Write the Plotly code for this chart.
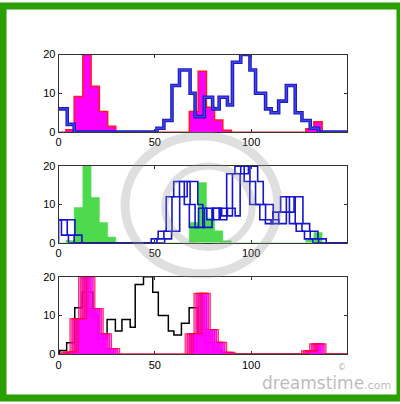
import plotly.graph_objects as go

# ---------------- data ----------------
# Panel 1 / 2: narrow-peaked histogram (magenta in panel 1, green in panel 2)
PEAK_EDGES = [0, 3.8, 8.1, 12.6, 16.9, 21.2, 25.5, 29.7, 67.9, 72.5, 76.8, 81.0, 85.3, 89.7, 128.4, 132.6, 136.9, 150]
PEAK_COUNTS = [0, 0.6, 9.2, 20, 11.8, 5.3, 1.5, 0, 5.3, 15.7, 6.4, 3.1, 0.5, 0, 0.9, 2.7, 0]

# Panel 1: broad blue histogram (stairs)
BROAD_EDGES = [-4, 4.5, 8.1, 51.1, 54.7, 58.9, 62.8, 68.3, 70.9, 75.7, 80.0, 83.4, 87.7, 90.3,
               94.6, 99.4, 102.3, 107.5, 110.4, 114.3, 118.3, 122.9, 126.4, 130.7, 135.0, 155]
BROAD_COUNTS = [6, 2, 0, 1, 3, 12, 16, 10, 4, 9, 6, 9, 7, 18, 20, 16, 10, 6, 5, 8, 12, 5, 3, 1, 0]

# Panel 2: offsets of the three overlaid blue stairs
PANEL2_SHIFTS = [-3.0, 0.0, 4.0]

# Panel 3: offsets of the overlaid magenta copies, and the black stairs
PANEL3_SHIFTS = [-2.2, -1.1, 0.0, 1.0, 2.0]
BLACK_EDGES = [-4, 0.6, 4.2, 8.4, 12.3, 17.8, 20.4, 25.2, 29.5, 32.9, 37.2, 39.8, 44.1, 48.9,
               51.8, 57.0, 59.9, 63.8, 67.8, 72.4, 75.9, 80.2, 84.5, 155]
BLACK_COUNTS = [0, 1, 3, 12, 16, 10, 4, 9, 6, 9, 7, 18, 20, 16, 10, 6, 5, 8, 12, 5, 3, 1, 0]

X_TICKS = [0, 50, 100]
Y_TICKS = [0, 10, 20]


def stairs(edges, counts, shift=0.0):
    xs = [edges[0] + shift] + [e + shift for e in edges]
    ys = [0] + list(counts) + [0]
    return xs, ys


fig = go.Figure()

# ---- panel 1 ----
x, y = stairs(PEAK_EDGES, PEAK_COUNTS)
fig.add_trace(go.Scatter(x=x, y=y, mode="lines", line_shape="hv", fill="tozeroy",
                         fillcolor="#ff00ff", line=dict(color="#ff1a1a", width=1.5),
                         xaxis="x", yaxis="y", showlegend=False, hoverinfo="skip"))
x, y = stairs(BROAD_EDGES, BROAD_COUNTS)
fig.add_trace(go.Scatter(x=x, y=y, mode="lines", line_shape="hv",
                         line=dict(color="#1c1cb0", width=3.6),
                         xaxis="x", yaxis="y", showlegend=False, hoverinfo="skip"))
fig.add_trace(go.Scatter(x=x, y=y, mode="lines", line_shape="hv",
                         line=dict(color="#4040ff", width=1.4),
                         xaxis="x", yaxis="y", showlegend=False, hoverinfo="skip"))

# ---- panel 2 ----
x, y = stairs(PEAK_EDGES, PEAK_COUNTS)
fig.add_trace(go.Scatter(x=x, y=y, mode="lines", line_shape="hv", fill="tozeroy",
                         fillcolor="#4ddb4d", line=dict(color="#4ddb4d", width=0.5),
                         xaxis="x2", yaxis="y2", showlegend=False, hoverinfo="skip"))
for s in PANEL2_SHIFTS:
    x, y = stairs(BROAD_EDGES, BROAD_COUNTS, s)
    fig.add_trace(go.Scatter(x=x, y=y, mode="lines", line_shape="hv",
                             line=dict(color="#1515d0", width=1.6),
                             xaxis="x2", yaxis="y2", showlegend=False, hoverinfo="skip"))

# ---- panel 3 ----
x, y = stairs(BLACK_EDGES, BLACK_COUNTS)
fig.add_trace(go.Scatter(x=x, y=y, mode="lines", line_shape="hv",
                         line=dict(color="#000000", width=1.5),
                         xaxis="x3", yaxis="y3", showlegend=False, hoverinfo="skip"))
for s in PANEL3_SHIFTS:
    x, y = stairs(PEAK_EDGES, PEAK_COUNTS, s)
    fig.add_trace(go.Scatter(x=x, y=y, mode="lines", line_shape="hv", fill="tozeroy",
                             fillcolor="rgba(255,0,255,0.5)",
                             line=dict(color="rgba(255,0,40,0.75)", width=1.1),
                             xaxis="x3", yaxis="y3", showlegend=False, hoverinfo="skip"))

W, H = 400, 404
xdom = [56 / W, 347 / W]
ydoms = [[1 - 130 / H, 1 - 50 / H], [1 - 244 / H, 1 - 165 / H], [1 - 359 / H, 1 - 279 / H]]

axis_common = dict(showline=True, linecolor="#333333", linewidth=1, mirror="ticks",
                   ticks="inside", ticklen=3, tickcolor="#333333", showgrid=False,
                   zeroline=False, tickfont=dict(family="Liberation Sans, Arial", size=11, color="#000"))

layout = dict(width=W, height=H, margin=dict(l=0, r=0, t=0, b=0),
              paper_bgcolor="white", plot_bgcolor="white")
for i, yd in enumerate(ydoms):
    sfx = "" if i == 0 else str(i + 1)
    layout["xaxis" + sfx] = dict(domain=xdom, range=[0, 150], tickvals=X_TICKS,
                                 anchor="y" + sfx, **axis_common)
    layout["yaxis" + sfx] = dict(domain=yd, range=[0, 20], tickvals=Y_TICKS,
                                 anchor="x" + sfx, **axis_common)
fig.update_layout(**layout)

# watermark rings and text, green frame
def pc(px, py):
    return px / W, 1 - py / H

shapes = []
for (cx, cy, rx, ry, wd) in [(200, 205, 77, 71, 9), (207, 207, 44, 42, 7)]:
    x0, y1 = pc(cx - rx, cy - ry)
    x1, y0 = pc(cx + rx, cy + ry)
    shapes.append(dict(type="circle", xref="paper", yref="paper", x0=x0, x1=x1, y0=y0, y1=y1,
                       line=dict(color="rgba(150,150,150,0.3)", width=wd), layer="above"))
shapes.append(dict(type="rect", xref="paper", yref="paper", x0=0, x1=1, y0=0, y1=1,
                   line=dict(color="#2aa000", width=7), layer="above"))
fig.update_layout(shapes=shapes)

fig.add_annotation(x=pc(326, 389)[0], y=pc(326, 389)[1], xref="paper", yref="paper",
                   xanchor="center", yanchor="middle",
                   text="dreamstime<span style='font-size:11px'>.com</span>", showarrow=False,
                   font=dict(family="DejaVu Sans", size=17, color="rgba(170,170,170,0.8)"))
fig.add_annotation(x=pc(342, 373)[0], y=pc(342, 373)[1], xref="paper", yref="paper",
                   xanchor="center", yanchor="middle",
                   text="©", showarrow=False,
                   font=dict(family="DejaVu Sans", size=8, color="rgba(150,150,150,0.8)"))

fig.write_html("out.html", config={"displayModeBar": False},
               post_script="document.body.style.margin='0';document.body.style.overflow='hidden';")
